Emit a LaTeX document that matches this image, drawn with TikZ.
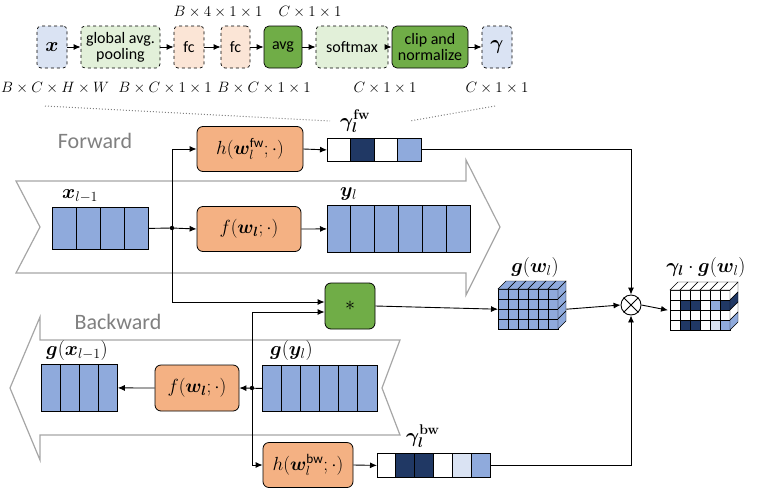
\RequirePackage{fix-cm}
\documentclass[tikz,border=0pt]{standalone}
\usepackage{fontspec}
\setmainfont{Carlito}
\usepackage{amsmath,bm}
\usetikzlibrary{arrows.meta}
\definecolor{cblue}{HTML}{8FAADC}
\definecolor{cdark}{HTML}{203864}
\definecolor{clight}{HTML}{DAE3F3}
\definecolor{corange}{HTML}{F4B183}
\definecolor{cgreen}{HTML}{70AD47}
\definecolor{clgreen}{HTML}{E2F0D9}
\definecolor{cpeach}{HTML}{FBE5D6}
\definecolor{cgray}{HTML}{A6A6A6}
\tikzset{
 tbox/.style={draw,dashed,rounded corners=4pt,minimum height=42pt,inner sep=1pt,align=center,font=\fontsize{16}{16}\selectfont,line width=0.7pt},
 sbox/.style={draw,rounded corners=5pt,minimum height=42pt,inner sep=1pt,align=center,font=\fontsize{16}{16}\selectfont,line width=0.7pt},
 obox/.style={draw,fill=corange,rounded corners=6pt,minimum height=45pt,inner sep=1pt,font=\fontsize{19}{21}\selectfont,line width=0.8pt},
 arr/.style={-{Latex[length=7pt,width=6pt]},line width=0.9pt},
 ln/.style={line width=0.9pt},
 dim/.style={font=\fontsize{15}{17}\selectfont},
 lab/.style={font=\fontsize{20}{22}\selectfont,inner sep=0pt},
 big/.style={draw=cgray,line width=1.2pt,line join=miter},
 dir/.style={text=gray,font=\fontsize{22}{24}\selectfont}
}
% name, x1, y1, x2, y2, n, colours
\newcommand\mybar[7]{%
 \foreach \cc [count=\i] in {#7} {
   \pgfmathsetmacro\w{(#4-#2)/#6}
   \fill[\cc] ({#2+(\i-1)*\w},#3) rectangle ({#2+\i*\w},#5);
   \ifnum\i>1 \draw[line width=0.8pt] ({#2+(\i-1)*\w},#3) -- ({#2+(\i-1)*\w},#5);\fi
 }
 \node[draw,line width=0.8pt,inner sep=0,minimum width={#4-#2},minimum height={#5-#3},anchor=north west] (#1) at (#2,#3) {};
}
% name, x, y, front colours (24, row major), side (4), top (6)
\newcommand\mycube[6]{%
 \foreach \cc [count=\i from 0] in {#4} {
   \pgfmathtruncatemacro\r{\i/6}\pgfmathtruncatemacro\c{\i-6*\r}
   \filldraw[fill=\cc,draw=black,line width=0.4pt] ({#2+10*\c},{#3+10*\r}) rectangle ++(10,10);
 }
 \foreach \cc [count=\i from 0] in {#5} {
   \filldraw[fill=\cc,draw=black,line width=0.4pt] ({#2+60},{#3+10*\i}) -- ++(8,-8) -- ++(0,10) -- ++(-8,8) -- cycle;
 }
 \foreach \cc [count=\i from 0] in {#6} {
   \filldraw[fill=\cc,draw=black,line width=0.4pt] ({#2+10*\i},#3) -- ++(8,-8) -- ++(10,0) -- ++(-8,8) -- cycle;
 }
 \node[inner sep=0,minimum width=60pt,minimum height=40pt,anchor=north west] (#1) at (#2,#3) {};
}
\begin{document}
\begin{tikzpicture}[x=1pt,y=-1pt]
\useasboundingbox (0,0) rectangle (775,490);
% top pipeline
\node[tbox,fill=clight,minimum width=30pt] (x) at (52,47) {\fontsize{20}{20}\selectfont$\bm{x}$};
\node[tbox,fill=clgreen,minimum width=79pt] (gap) at (120.5,47) {global avg.\\pooling};
\node[tbox,fill=cpeach,minimum width=30pt] (fc1) at (189,47) {fc};
\node[tbox,fill=cpeach,minimum width=29pt] (fc2) at (235.5,47) {fc};
\node[sbox,fill=cgreen,minimum width=38pt] (avg) at (283,47) {avg};
\node[tbox,fill=clgreen,minimum width=72pt] (sm) at (352,47) {softmax};
\node[sbox,fill=cgreen,minimum width=76pt] (clip) at (430,47) {clip and\\normalize};
\node[tbox,fill=clight,minimum width=30pt] (g) at (497,47) {\fontsize{20}{20}\selectfont$\bm{\gamma}$};
\foreach \a/\b in {x/gap,gap/fc1,fc1/fc2,fc2/avg,avg/sm,sm/clip,clip/g} \draw[arr] (\a) -- (\b);
\node[dim,anchor=west,inner sep=0] (d1) at (1,88) {$B\times C\times H\times W$};
\node[dim] (d2) at (165,88) {$B\times C\times 1\times 1$};
\node[dim] (d3) at (218,12) {$B\times 4\times 1\times 1$};
\node[dim] (d4) at (264,88) {$B\times C\times 1\times 1$};
\node[dim] (d5) at (310,12) {$C\times 1\times 1$};
\node[dim] (d6) at (385,88) {$C\times 1\times 1$};
\node[dim] (d7) at (497,88) {$C\times 1\times 1$};
\coordinate (fl1) at (45,106); \coordinate (fl2) at (330,121);
\coordinate (fr1) at (495,106); \coordinate (fr2) at (410,121);
\draw[gray,dotted,line width=1pt] (fl1) -- (fl2);
\draw[gray,dotted,line width=1pt] (fr1) -- (fr2);
% big arrows
\draw[big] (16,181) -- (466,181) -- (466,160) -- (500,227) -- (466,295) -- (466,273) -- (16,273) -- (40,227) -- cycle;
\node[dir] (fwd) at (95,141) {Forward};
\draw[big] (400,340) -- (40,340) -- (40,317) -- (10,388) -- (40,460) -- (40,435) -- (400,435) -- (382,388) -- cycle;
\node[dir] (bwd) at (118,322) {Backward};
% forward
\mybar{xl}{52}{207}{148}{249}{4}{cblue,cblue,cblue,cblue}
\node[lab,anchor=south west] (xll) at (62,203) {$\bm{x}_{l-1}$};
\node[obox,minimum width=106pt] (hfw) at (250,149) {$h(\bm{w}_l^{\mathrm{fw}};\cdot)$};
\node[obox,minimum width=104pt] (ffw) at (249,229) {$f(\bm{w_l};\cdot)$};
\mybar{gfw}{327}{138}{421}{161}{4}{white,cdark,white,cblue}
\node[lab,anchor=south west] (gfwl) at (340,133) {$\bm{\gamma_l^{\mathbf{fw}}}$};
\mybar{yl}{327}{205}{470}{252}{6}{cblue,cblue,cblue,cblue,cblue,cblue}
\node[lab,anchor=south west] (yll) at (340,201) {$\bm{y}_l$};
\coordinate (j1) at (172,228);
\fill (j1) circle (2.2pt);
\draw[ln] (xl.east) -- (j1);
\draw[arr] (j1) -- (ffw.west);
\draw[arr] (ffw.east) -- (yl.west);
\draw[arr] (j1) |- (hfw.west);
\draw[arr] (hfw.east) -- (gfw.west);
\node[draw,fill=cgreen,rounded corners=6pt,minimum width=50pt,minimum height=46pt,line width=0.8pt,font=\fontsize{20}{20}\selectfont] (star) at (350,306) {$*$};
\draw[arr] (j1) |- ([yshift=4pt]star.west);
% product
\node[draw,circle,minimum size=20pt,inner sep=0,line width=0.9pt] (ot) at (631,305) {};
\draw[line width=0.9pt] (ot.north west) -- (ot.south east) (ot.north east) -- (ot.south west);
\mycube{gw}{498}{289}{cblue,cblue,cblue,cblue,cblue,cblue,cblue,cblue,cblue,cblue,cblue,cblue,cblue,cblue,cblue,cblue,cblue,cblue,cblue,cblue,cblue,cblue,cblue,cblue}{cblue,cblue,cblue,cblue}{cblue,cblue,cblue,cblue,cblue,cblue}
\node[lab] (gwl) at (535,267) {$\bm{g}(\bm{w}_l)$};
\mycube{res}{670}{290}{white,white,white,white,white,white,white,cdark,cdark,white,cblue,cdark,white,white,white,white,white,white,white,cdark,cdark,white,clight,cblue}{white,cdark,white,cblue}{white,white,white,white,white,white}
\node[lab] (resl) at (706,267) {$\bm{\gamma_l}\cdot\bm{g}(\bm{w}_l)$};
\draw[arr] (star.east) -- (gw.west);
\draw[arr] ([xshift=8pt]gw.east) -- (ot.west);
\draw[arr] (ot.east) -- ([xshift=-2pt]res.west);
\draw[arr] (gfw.east) -| (ot.north);
% backward
\mybar{gx}{41}{364}{117}{411}{4}{cblue,cblue,cblue,cblue}
\node[lab,anchor=south west] (gxl) at (46,361) {$\bm{g}(\bm{x}_{l-1})$};
\node[obox,minimum width=84pt,minimum height=46pt] (fbw) at (197,388) {$f(\bm{w_l};\cdot)$};
\mybar{gy}{262}{365}{377}{411}{6}{cblue,cblue,cblue,cblue,cblue,cblue}
\node[lab,anchor=south west] (gyl) at (270,361) {$\bm{g}(\bm{y}_l)$};
\coordinate (j2) at (252,388);
\fill (j2) circle (2.2pt);
\draw[arr] (gy.west) -- (fbw.east);
\draw[arr] (fbw.west) -- (gx.east);
\draw[arr] (j2) |- ([yshift=-6pt]star.west);
\node[obox,minimum width=90pt] (hbw) at (308,465) {$h(\bm{w}_l^{\mathrm{bw}};\cdot)$};
\draw[arr] (j2) |- (hbw.west);
\mybar{gbw}{377}{453}{490}{477}{6}{white,cdark,cdark,white,clight,cblue}
\node[lab,anchor=south west] (gbwl) at (406,448) {$\bm{\gamma_l^{\mathbf{bw}}}$};
\draw[arr] (hbw.east) -- (gbw.west);
\draw[arr] (gbw.east) -| (ot.south);
\end{tikzpicture}
\end{document}
